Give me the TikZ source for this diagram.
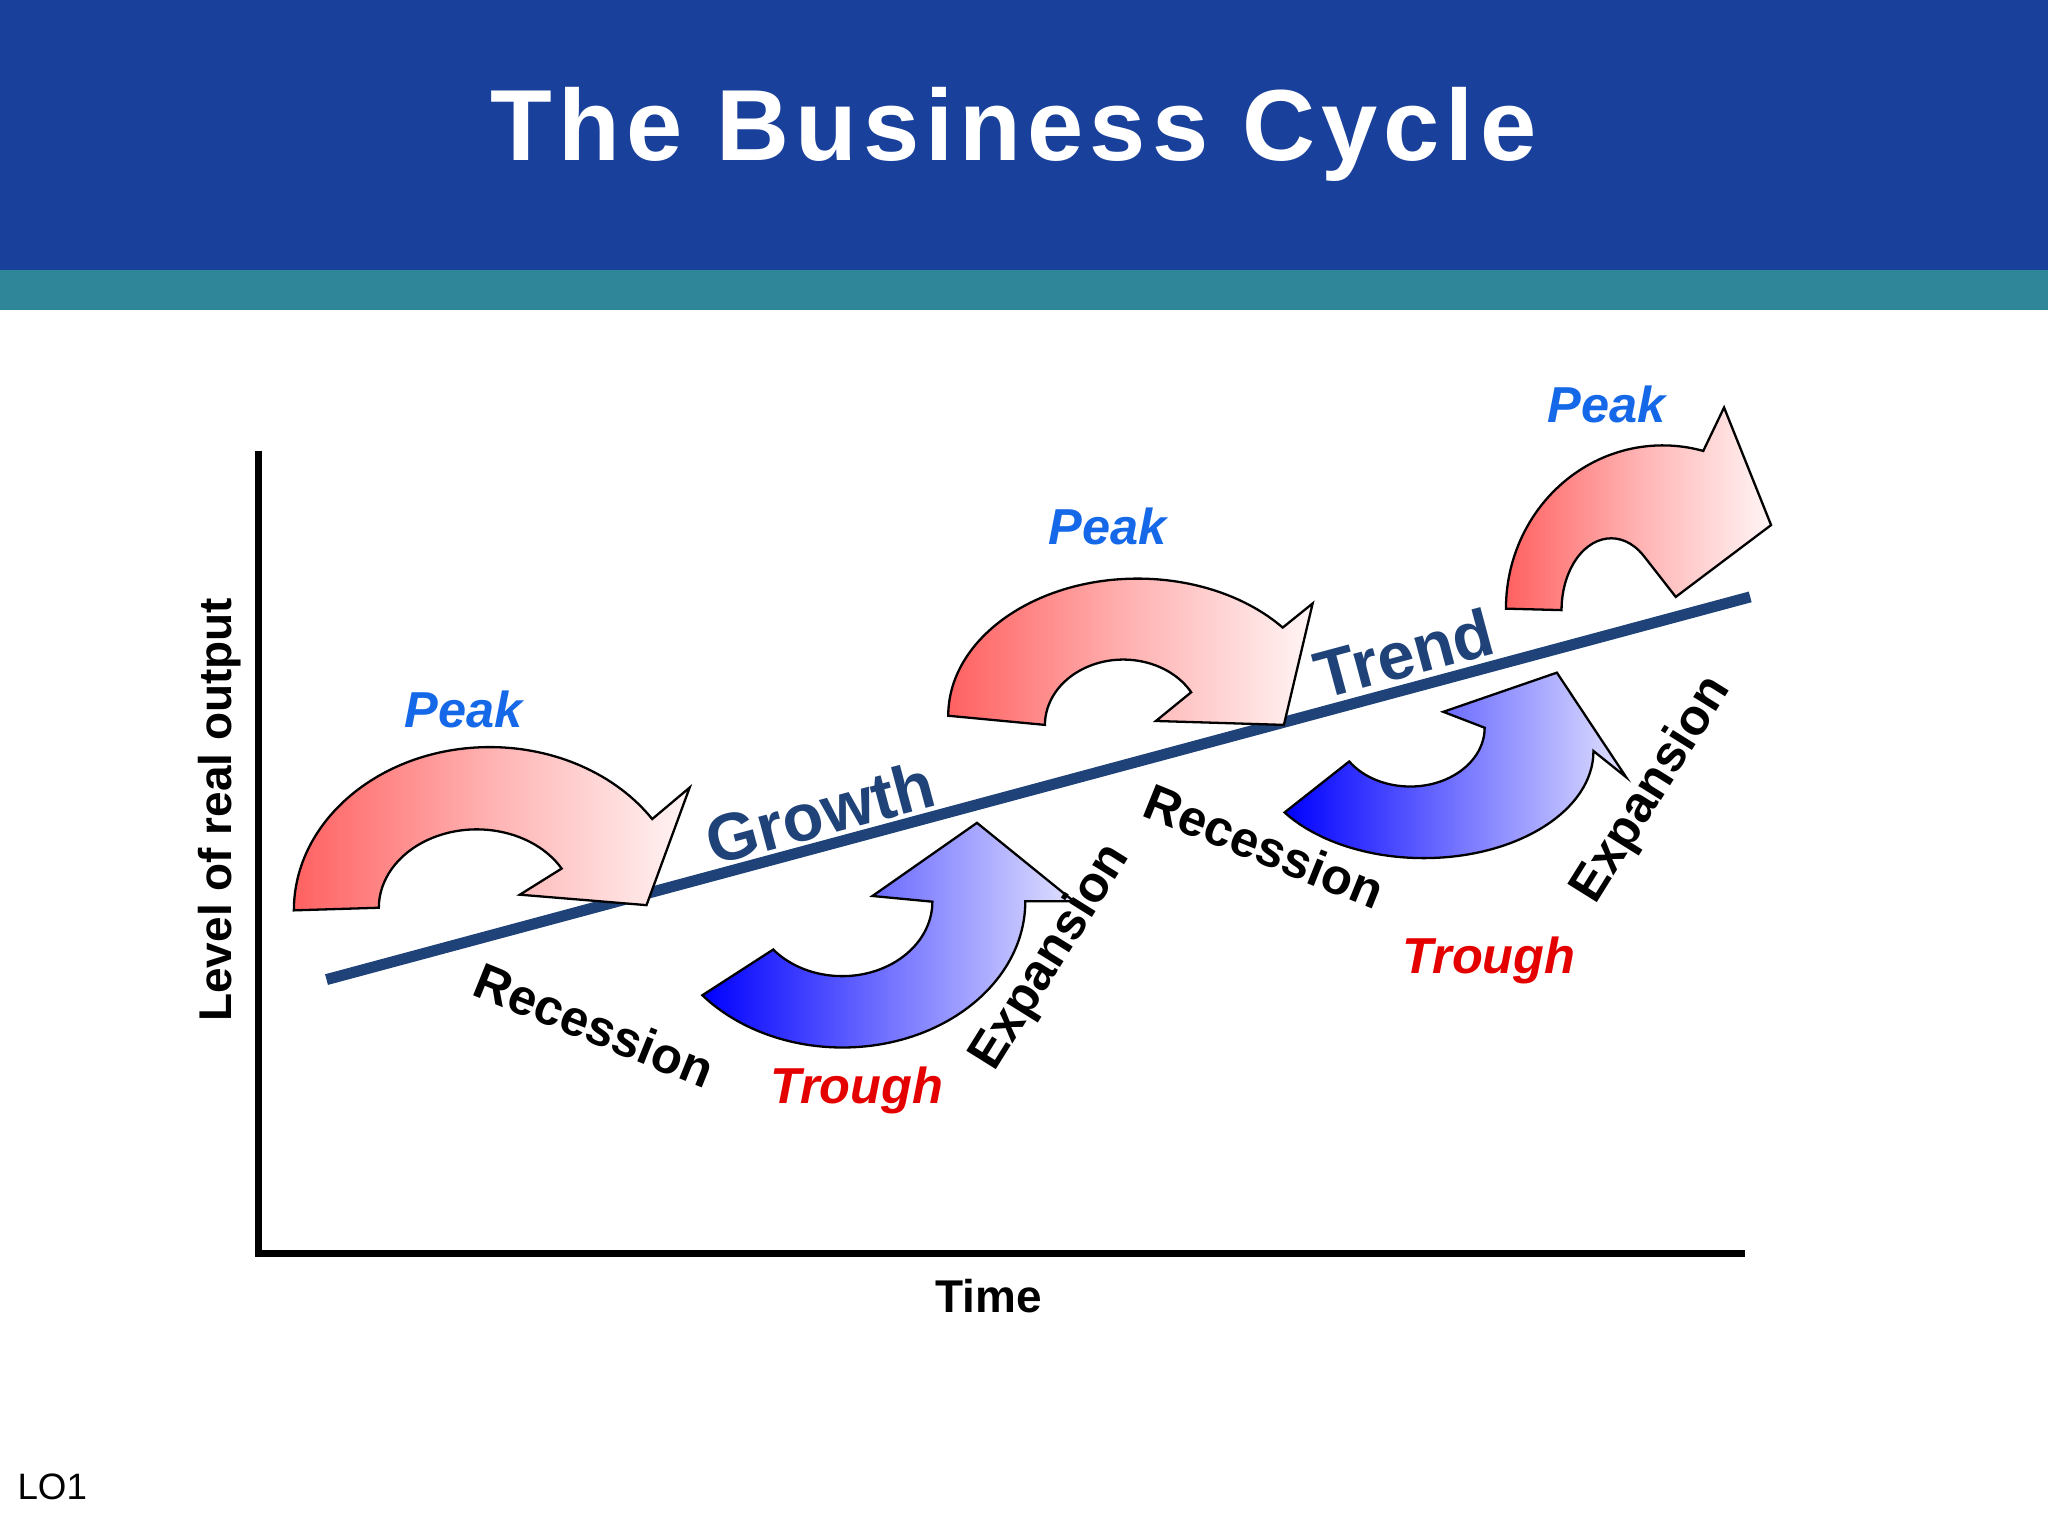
\documentclass[tikz,border=0pt]{standalone}
\usepackage{fontspec}
\setmainfont{Liberation Sans}
\begin{document}
\begin{tikzpicture}[x=0.01cm,y=-0.01cm,
  redarr/.style={draw=black,line width=0.5pt,left color=red!62,right color=red!4,middle color=red!30},
  bluearr/.style={draw=black,line width=0.5pt,left color=blue!100,right color=blue!12,middle color=blue!55},
  peak/.style={font=\fontsize{11}{13}\selectfont\bfseries\itshape,text=peakc},
  trough/.style={font=\fontsize{11}{13}\selectfont\bfseries\itshape,text=red!90!black},
  lab/.style={font=\fontsize{11}{13}\selectfont\bfseries},
  big/.style={font=\fontsize{14.5}{16}\selectfont\bfseries,text=navy}]
\definecolor{navy}{HTML}{1F4278}
\definecolor{peakc}{HTML}{1569E8}
\definecolor{hdr}{HTML}{19409A}
\definecolor{teal}{HTML}{2E8698}
\useasboundingbox (0,0) rectangle (1568,1176);
\fill[white] (0,0) rectangle (1568,1176);
\fill[hdr] (0,0) rectangle (1568,207);
\fill[teal] (0,207) rectangle (1568,237);
\node[text=white,font=\fontsize{22}{26}\selectfont\bfseries\addfontfeatures{LetterSpace=6}] (title) at (776,103) {The Business Cycle};
% axes
\coordinate (o) at (198,960); \coordinate (ytop) at (198,345); \coordinate (xend) at (1336,960);
\draw[line width=1.5pt] (ytop) -- (o) -- (xend);
\node[font=\fontsize{10}{12}\selectfont\bfseries,rotate=90] (ylab) at (168,620) {Level of real output};
\node[font=\fontsize{10}{12}\selectfont\bfseries] (xlab) at (757,992) {Time};
\node[font=\fontsize{8}{10}\selectfont] (lo) at (40,1138) {LO1};
% trend
\coordinate (t1) at (250,750); \coordinate (t2) at (1340,457);
\draw[navy,line width=2.4pt] (t1) -- (t2);
% red arrows
\path[redarr] (225,697) arc[start angle=180,end angle=326,x radius=150,y radius=125]
  -- (528,603) -- (495,693) -- (398,685) -- (430,665)
  arc[start angle=330,end angle=180,x radius=75,y radius=60] -- cycle;
\path[redarr] (726,548) arc[start angle=180,end angle=320,x radius=145,y radius=105]
  -- (1005,462) -- (983,555) -- (885,552) -- (912,530)
  arc[start angle=330,end angle=180,x radius=60,y radius=50] -- cycle;
\path[redarr] (1153,466) arc[start angle=180,end angle=285,x radius=120,y radius=125]
  -- (1320,312) -- (1356,402) -- (1283,457) -- (1258,425)
  arc[start angle=310,end angle=180,x radius=38,y radius=55] -- cycle;
% blue arrows
\path[bluearr] (785,690) arc[start angle=0,end angle=140,x radius=140,y radius=112]
  -- (592,727) arc[start angle=140,end angle=0,x radius=69,y radius=57]
  -- (668,686) -- (748,630) -- (822,690) -- cycle;
\path[bluearr] (1220,575) arc[start angle=0,end angle=145,x radius=130,y radius=82]
  -- (1033,583) arc[start angle=145,end angle=0,x radius=57,y radius=45]
  -- (1105,545) -- (1192,515) -- (1245,595) -- cycle;
% labels
\node[peak] (p1) at (355,543) {Peak};
\node[peak] (p2) at (848,403) {Peak};
\node[peak] (p3) at (1230,310) {Peak};
\node[big,rotate=15] (g) at (628,622) {Growth};
\node[big,rotate=15] (tr) at (1075,500) {Trend};
\node[lab,rotate=-22] (r1) at (455,785) {Recession};
\node[lab,rotate=-22] (r2) at (968,648) {Recession};
\node[trough] (tg1) at (656,835) {Trough};
\node[trough] (tg2) at (1140,735) {Trough};
\node[lab,rotate=58] (e1) at (805,733) {Expansion};
\node[lab,rotate=58] (e2) at (1265,605) {Expansion};
\end{tikzpicture}
\end{document}
